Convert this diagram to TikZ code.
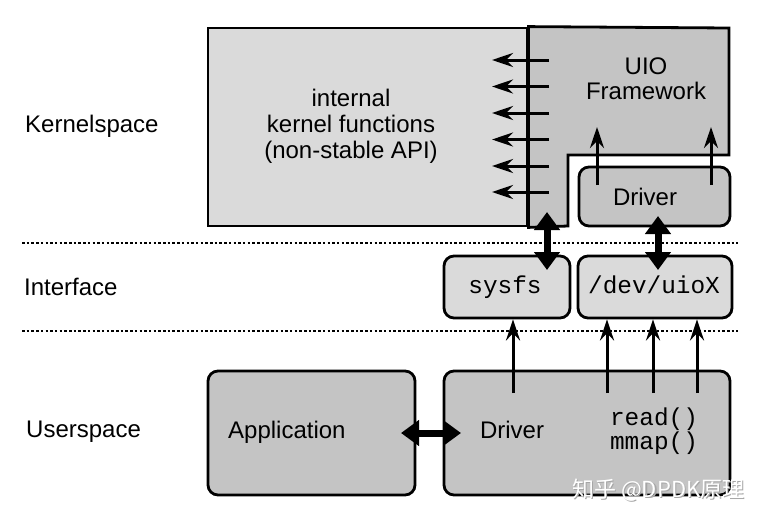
\documentclass[tikz,border=0pt]{standalone}
\usepackage{fontspec}
\setmainfont{Liberation Sans}
\setmonofont{Liberation Mono}
\newfontfamily\cjk{Noto Sans CJK SC}
\usetikzlibrary{arrows.meta,calc}
\definecolor{lightfill}{HTML}{DADADA}
\definecolor{midfill}{HTML}{C4C4C4}
\tikzset{
  rbox/.style={draw, line width=2.8pt, rounded corners=10pt, fill=midfill, inner sep=0pt},
  lrbox/.style={rbox, fill=lightfill},
  lab/.style={font=\fontsize{24}{26}\selectfont, inner sep=0pt},
  monolab/.style={font=\ttfamily\fontsize{24.4}{24}\selectfont, inner sep=0pt},
  smallarr/.style={line width=3pt, -{Stealth[length=21pt,width=14pt,inset=7pt]}},
  bigarr/.style={line width=7pt, {Triangle[length=18pt,width=25pt]}-{Triangle[length=18pt,width=25pt]}},
  sepline/.style={line width=2.5pt, dash pattern=on 2.5pt off 2.2pt},
}
\begin{document}
\begin{tikzpicture}[x=1pt,y=-1pt]
\useasboundingbox (0,0) rectangle (768,520);
\fill[white] (0,0) rectangle (768,520);

% separators
\coordinate (s1a) at (22,243); \coordinate (s1b) at (738,243);
\coordinate (s2a) at (22,331); \coordinate (s2b) at (738,331);
\draw[sepline] (s1a) -- (s1b);
\draw[sepline] (s2a) -- (s2b);

% layer labels
\node[lab, anchor=base west] (kl) at (25,132) {Kernelspace};
\node[lab, anchor=base west] (il) at (24,295) {Interface};
\node[lab, anchor=base west] (ul) at (26,437) {Userspace};

% kernel internal box
\node[draw, line width=2.8pt, fill=lightfill, inner sep=0pt,
      minimum width=319pt, minimum height=198pt] (internal) at (367.5,127) {};
\node[lab, align=center] (internall) at (351,126) {internal\\kernel functions\\(non-stable API)};

% UIO framework shape
\coordinate (u1) at (729,28);
\coordinate (u2) at (729,155);
\coordinate (u3) at (568,155);
\coordinate (u4) at (568,226);
\draw[line width=2.8pt, fill=midfill, line join=miter]
  (internal.north east) -- (u1) -- (u2) -- (u3) -- (u4) -- (internal.south east) -- cycle;
\node[lab, align=center, font=\fontsize{24}{25}\selectfont] (uiol) at (646,79) {UIO\\Framework};

% arrows into internal functions
\foreach \i/\y in {1/60,2/86.5,3/113,4/139.5,5/166,6/192}{
  \coordinate (af\i) at (549,\y);
  \coordinate (at\i) at (492,\y);
  \draw[smallarr] (af\i) -- (at\i);
}

% kernel driver
\node[rbox, minimum width=151pt, minimum height=59pt] (kdrv) at (654.5,196.5) {};
\node[lab, anchor=base] (kdrvl) at (645,205) {Driver};
\coordinate (k1) at (597,185); \coordinate (k1t) at (597,127);
\coordinate (k2) at (711,185); \coordinate (k2t) at (711,127);
\draw[smallarr] (k1) -- (k1t);
\draw[smallarr] (k2) -- (k2t);

% interface boxes
\node[lrbox, minimum width=126pt, minimum height=62pt] (sysfs) at (507,287) {};
\node[monolab, anchor=base] (sysfsl) at (505,293) {sysfs};
\node[lrbox, minimum width=154pt, minimum height=62pt] (dev) at (655,287) {};
\node[monolab, anchor=base] (devl) at (654,293) {/dev/uioX};

% thick arrows kernel <-> interface
\coordinate (ta1) at (547,212); \coordinate (tb1) at (547,270);
\coordinate (ta2) at (658,216); \coordinate (tb2) at (658,270);
\draw[bigarr] (ta1) -- (tb1);
\draw[bigarr] (ta2) -- (tb2);

% userspace boxes
\node[rbox, minimum width=207pt, minimum height=124pt] (app) at (311.5,433) {};
\node[lab, anchor=base west] (appl) at (228,438) {Application};
\node[rbox, minimum width=286pt, minimum height=124pt] (udrv) at (587,433) {};
\node[lab, anchor=base] (udrvl) at (512,438) {Driver};
\node[monolab, anchor=base] (readl) at (654,425) {read()};
\node[monolab, anchor=base] (mmapl) at (654,449) {mmap()};

% userspace arrows up
\coordinate (d1) at (513,393);
\coordinate (d2) at (607,393);
\coordinate (d3) at (653,393);
\coordinate (d4) at (697,393);
\draw[smallarr] (d1) -- (d1 |- sysfs.south);
\draw[smallarr] (d2) -- (d2 |- dev.south);
\draw[smallarr] (d3) -- (d3 |- dev.south);
\draw[smallarr] (d4) -- (d4 |- dev.south);

% app <-> driver
\coordinate (h1) at (401,433); \coordinate (h2) at (461,433);
\draw[bigarr] (h1) -- (h2);

% watermark
\node[font=\cjk\fontsize{22}{22}\selectfont, text=gray!70, anchor=base west, inner sep=0pt] (wm1) at (573.2,498.2) {知乎 @DPDK原理};
\node[font=\cjk\fontsize{22}{22}\selectfont, text=white, anchor=base west, inner sep=0pt] (wm2) at (572,497) {知乎 @DPDK原理};
\end{tikzpicture}
\end{document}
